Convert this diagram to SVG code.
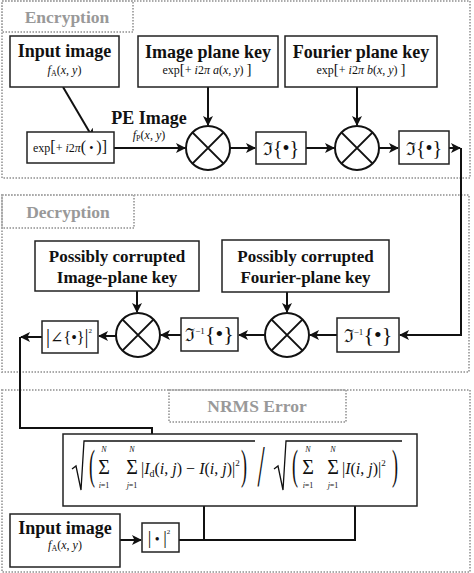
<svg xmlns="http://www.w3.org/2000/svg" width="474" height="573" viewBox="0 0 474 573">
<style>
.frame{fill:none;stroke:#aaa;stroke-width:2;stroke-dasharray:1.5 1.5}
.title{font-family:"Liberation Serif",serif;font-weight:bold;font-size:17.5px;fill:#999;text-anchor:middle}
.box{fill:#fff;stroke:#222;stroke-width:1.5}
.hd{font-family:"Liberation Serif",serif;font-weight:bold;font-size:18px;fill:#111;text-anchor:middle}
.hd2{font-family:"Liberation Serif",serif;font-weight:bold;font-size:17px;fill:#111;text-anchor:middle}
.sub{font-family:"Liberation Serif",serif;font-size:12px;fill:#111;text-anchor:middle}
.it{font-style:italic}
.op{font-family:"Liberation Serif","DejaVu Serif",serif;font-size:18px;fill:#111;text-anchor:middle}
.fm{font-family:"Liberation Serif",serif;font-size:16px;fill:#111}
.sm{font-family:"Liberation Serif",serif;font-size:8px;fill:#111;text-anchor:middle}
.sig{font-family:"Liberation Serif",serif;font-size:20px;fill:#111;text-anchor:middle}
.mul{fill:#fff;stroke:#111;stroke-width:2}
.x{stroke:#111;stroke-width:2}
.c{fill:none;stroke:#111;stroke-width:2;marker-end:url(#ah)}
.rad{fill:none;stroke:#111;stroke-width:1.3}
</style>
<defs>
<marker id="ah" viewBox="0 0 10 10" refX="9" refY="5" markerWidth="10" markerHeight="10" markerUnits="userSpaceOnUse" orient="auto"><path d="M0,0 L10,5 L0,10 L2.5,5 z" fill="#111"/></marker>
</defs>

<!-- frames -->
<g id="frames">
<rect class="frame" x="2" y="1" width="468" height="177"/>
<rect class="frame" x="2" y="1" width="131" height="31"/>
<text class="title" x="67" y="23">Encryption</text>
<rect class="frame" x="2" y="195" width="467" height="177"/>
<rect class="frame" x="2" y="195" width="132" height="33"/>
<text class="title" x="68" y="218">Decryption</text>
<rect class="frame" x="2" y="390" width="468" height="182"/>
<rect class="frame" x="169" y="390" width="177" height="32"/>
<text class="title" x="257" y="412">NRMS Error</text>
</g>

<!-- connectors -->
<g id="connectors">
<path class="c" d="M63,87 L93,138"/>
<path class="c" d="M114,148 H185"/>
<path class="c" d="M208,87 V125"/>
<path class="c" d="M230,148 H255"/>
<path class="c" d="M306,148 H334"/>
<path class="c" d="M357,87 V125"/>
<path class="c" d="M379,148 H398"/>
<path class="c" d="M449,148 H460"/>
<path class="c" d="M461,148 V335 H400"/>
<path class="c" d="M337,335 H310"/>
<path class="c" d="M287,292 V312"/>
<path class="c" d="M265,335 H239"/>
<path class="c" d="M181,335 H161"/>
<path class="c" d="M137,291 V312"/>
<path class="c" d="M116,336 H99"/>
<path class="c" d="M42,337 H21"/>
<path class="c" d="M20,337 V428 H152 V452"/>
<path class="c" d="M120,540 H141"/>
<path class="c" d="M179,540 H355 V483"/>
<path class="c" d="M204,540 V483"/>
</g>

<!-- Encryption -->
<g id="input-image">
<rect class="box" x="10" y="36" width="109" height="51"/>
<text class="hd" x="64.5" y="57">Input image</text>
<text class="sub" x="64.5" y="74"><tspan class="it">f</tspan><tspan font-size="8" dy="2">A</tspan><tspan dy="-2">(</tspan><tspan class="it">x</tspan>, <tspan class="it">y</tspan>)</text>
</g>
<g id="image-plane-key">
<rect class="box" x="138" y="36" width="140" height="51"/>
<text class="hd" x="208" y="58">Image plane key</text>
<text class="sub" x="207" y="74">exp<tspan font-size="15">[</tspan>+ <tspan class="it">i</tspan>2<tspan class="it">π</tspan>  <tspan class="it">a</tspan>(<tspan class="it">x</tspan>, <tspan class="it">y</tspan>)  <tspan font-size="15">]</tspan></text>
</g>
<g id="fourier-plane-key">
<rect class="box" x="285" y="36" width="152" height="51"/>
<text class="hd" x="361" y="58">Fourier plane key</text>
<text class="sub" x="361" y="74">exp<tspan font-size="15">[</tspan>+ <tspan class="it">i</tspan>2<tspan class="it">π</tspan>  <tspan class="it">b</tspan>(<tspan class="it">x</tspan>, <tspan class="it">y</tspan>)  <tspan font-size="15">]</tspan></text>
</g>
<g id="phase-encode">
<rect class="box" x="27" y="132" width="87" height="31"/>
<text class="sub" x="70" y="152">exp<tspan font-size="16">[</tspan>+ <tspan class="it">i</tspan>2<tspan class="it">π</tspan><tspan font-size="16">(</tspan> • <tspan font-size="16">)]</tspan></text>
</g>
<g id="pe-image-label">
<text class="hd" x="149" y="124">PE Image</text>
<text class="sub" x="149" y="139"><tspan class="it">f</tspan><tspan font-size="8" dy="2">P</tspan><tspan dy="-2">(</tspan><tspan class="it">x</tspan>, <tspan class="it">y</tspan>)</text>
</g>
<g id="mult1">
<circle class="mul" cx="208" cy="148" r="22"/>
<path class="x" d="M192.4,132.4 L223.6,163.6 M223.6,132.4 L192.4,163.6"/>
</g>
<g id="ft1">
<rect class="box" x="256" y="132" width="50" height="32"/>
<text class="op" x="281" y="155">ℑ<tspan font-size="20">{•}</tspan></text>
</g>
<g id="mult2">
<circle class="mul" cx="357" cy="148" r="22"/>
<path class="x" d="M341.4,132.4 L372.6,163.6 M372.6,132.4 L341.4,163.6"/>
</g>
<g id="ft2">
<rect class="box" x="399" y="131" width="50" height="33"/>
<text class="op" x="424" y="155">ℑ<tspan font-size="20">{•}</tspan></text>
</g>

<!-- Decryption -->
<g id="corrupt-image-key">
<rect class="box" x="35" y="241" width="164" height="50"/>
<text class="hd2" x="117" y="262">Possibly corrupted</text>
<text class="hd2" x="117" y="283">Image-plane key</text>
</g>
<g id="corrupt-fourier-key">
<rect class="box" x="222" y="240" width="167" height="52"/>
<text class="hd2" x="305.5" y="262">Possibly corrupted</text>
<text class="hd2" x="305.5" y="283">Fourier-plane key</text>
</g>
<g id="ift1">
<rect class="box" x="337" y="318" width="62" height="34"/>
<text class="op" x="368" y="342">ℑ<tspan font-size="9" dy="-7">−1</tspan><tspan dy="7" font-size="22">{•}</tspan></text>
</g>
<g id="mult4">
<circle class="mul" cx="287" cy="335" r="22"/>
<path class="x" d="M271.4,319.4 L302.6,350.6 M302.6,319.4 L271.4,350.6"/>
</g>
<g id="ift2">
<rect class="box" x="181" y="318" width="57" height="33"/>
<text class="op" x="209.5" y="341">ℑ<tspan font-size="9" dy="-7">−1</tspan><tspan dy="7" font-size="22">{•}</tspan></text>
</g>
<g id="mult3">
<circle class="mul" cx="138" cy="335" r="22"/>
<path class="x" d="M122.4,319.4 L153.6,350.6 M153.6,319.4 L122.4,350.6"/>
</g>
<g id="phase-extract">
<rect class="box" x="42" y="321" width="56" height="32"/>
<text class="op" x="69" y="343" style="font-size:16px"><tspan font-size="20">|</tspan>∠{•}<tspan font-size="20">|</tspan><tspan font-size="7" dy="-10">2</tspan></text>
</g>

<!-- NRMS -->
<g id="nrms-formula">
<rect class="box" x="63" y="434" width="354" height="72"/>
<path class="rad" d="M72,469 L76,466 L81,490 L84,441 L255,441"/>
<text class="fm" transform="translate(92,479) scale(1,2.3)" text-anchor="middle" style="font-size:18px">(</text>
<text class="sig" x="104" y="474">Σ</text>
<text class="sm it" x="104" y="452">N</text>
<text class="sm" x="104" y="488"><tspan class="it">i</tspan>=1</text>
<text class="sig" x="132" y="474">Σ</text>
<text class="sm it" x="132" y="452">N</text>
<text class="sm" x="132" y="488"><tspan class="it">j</tspan>=1</text>
<text class="fm" x="141" y="474">|<tspan class="it">I</tspan><tspan font-size="10" dy="3">d</tspan><tspan dy="-3">(</tspan><tspan class="it">i</tspan>, <tspan class="it">j</tspan>) − <tspan class="it">I</tspan>(<tspan class="it">i</tspan>, <tspan class="it">j</tspan>)|<tspan font-size="9" dy="-8">2</tspan></text>
<text class="fm" transform="translate(244,479) scale(1,2.3)" text-anchor="middle" style="font-size:18px">)</text>
<text class="fm" transform="translate(261,486) scale(1,2.3)" text-anchor="middle" style="font-size:26px">/</text>
<path class="rad" d="M274,469 L278,466 L283,490 L286,441 L402,441"/>
<text class="fm" transform="translate(295,479) scale(1,2.3)" text-anchor="middle" style="font-size:18px">(</text>
<text class="sig" x="308" y="474">Σ</text>
<text class="sm it" x="308" y="452">N</text>
<text class="sm" x="308" y="488"><tspan class="it">i</tspan>=1</text>
<text class="sig" x="333" y="474">Σ</text>
<text class="sm it" x="333" y="452">N</text>
<text class="sm" x="333" y="488"><tspan class="it">j</tspan>=1</text>
<text class="fm" x="342" y="474">|<tspan class="it">I</tspan>(<tspan class="it">i</tspan>, <tspan class="it">j</tspan>)|<tspan font-size="9" dy="-8">2</tspan></text>
<text class="fm" transform="translate(395,479) scale(1,2.3)" text-anchor="middle" style="font-size:18px">)</text>
</g>
<g id="input-image-2">
<rect class="box" x="10" y="514" width="110" height="53"/>
<text class="hd" x="65" y="534">Input image</text>
<text class="sub" x="65" y="549"><tspan class="it">f</tspan><tspan font-size="8" dy="2">A</tspan><tspan dy="-2">(</tspan><tspan class="it">x</tspan>, <tspan class="it">y</tspan>)</text>
</g>
<g id="abs-square">
<rect class="box" x="142" y="523" width="37" height="29"/>
<text class="op" x="159" y="544" style="font-size:14px"><tspan font-size="18">|</tspan> • <tspan font-size="18">|</tspan><tspan font-size="7" dy="-10">2</tspan></text>
</g>
</svg>
